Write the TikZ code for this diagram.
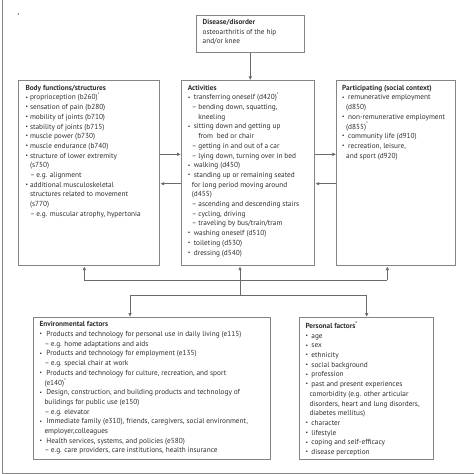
\documentclass[tikz,border=0pt]{standalone}
\usepackage{fontspec}
\setmainfont{PT Sans}
\usetikzlibrary{arrows.meta}
\definecolor{txt}{HTML}{2E2E2E}
\definecolor{frame}{HTML}{858585}
\definecolor{conn}{HTML}{6A6A6A}
\newcommand{\bu}[1][4.5pt]{\makebox[#1][l]{\raisebox{0.2ex}{\scalebox{0.75}{\textbullet}}}}
\newcommand{\ct}[1][4.5pt]{\hspace*{#1}}
\newcommand{\da}[1][6.5pt]{\makebox[#1][l]{–}}
\newcommand{\astr}{\textsuperscript{*}}
\begin{document}
\begin{tikzpicture}[x=1pt,y=-1pt,
  box/.style={draw=frame,line width=0.9pt,rectangle,inner sep=0pt,anchor=north west},
  txtbox/.style={anchor=north west,inner sep=0pt,align=left,text=txt,
     font=\fontsize{7.3}{9.7}\selectfont},
  arr/.style={draw=conn,line width=0.8pt,-{Latex[length=4pt,width=3.6pt]}},
  ln/.style={draw=conn,line width=0.8pt}]
\useasboundingbox (0,0) rectangle (474,474);
\draw[frame,line width=0.8pt] (2.5,0) -- (2.5,473.3) -- (474,473.3);
\fill[txt] (18.3,14) circle (0.7);

% boxes
\node[box,minimum width=108.3pt,minimum height=37pt] (dis) at (195.7,14.7) {};
\node[box,minimum width=141pt,minimum height=185pt] (body) at (18.3,80.3) {};
\node[box,minimum width=133.3pt,minimum height=185pt] (act) at (181,80.3) {};
\node[box,minimum width=119pt,minimum height=185pt] (par) at (336.3,80.3) {};
\node[box,minimum width=236.7pt,minimum height=142pt] (env) at (33.3,317) {};
\node[box,minimum width=134pt,minimum height=142pt] (per) at (299.3,317) {};

% texts
\node[txtbox] (disT) at (202.5,19.2) {\textbf{Disease/disorder}\\
osteoarthritis of the hip\\
and/or knee};

\node[txtbox] (bodyT) at (25.3,84.8) {\textbf{Body functions/structures}\\
\bu proprioception (b260)\astr\\
\bu sensation of pain (b280)\\
\bu mobility of joints (b710)\\
\bu stability of joints (b715)\\
\bu muscle power (b730)\\
\bu muscle endurance (b740)\\
\bu structure of lower extremity\\
\ct (s750)\\
\ct\da e.g. alignment\\
\bu additional musculoskeletal\\
\ct structures related to movement\\
\ct (s770)\\
\ct\da e.g. muscular atrophy, hypertonia};

\node[txtbox] (actT) at (187.7,84.8) {\textbf{Activities}\\
\bu[4pt] transferring oneself (d420)\astr\\
\ct[4pt]\da bending down, squatting,\\
\ct[10.5pt]kneeling\\
\bu[4pt] sitting down and getting up\\
\ct[10.5pt]from~ bed or chair\\
\ct[4pt]\da getting in and out of a car\\
\ct[4pt]\da lying down, turning over in bed\\
\bu[4pt] walking (d450)\\
\bu[4pt] standing up or remaining seated\\
\ct[4pt]for long period moving around\\
\ct[4pt](d455)\\
\ct[4pt]\da ascending and descending stairs\\
\ct[4pt]\da cycling, driving\\
\ct[4pt]\da traveling by bus/train/tram\\
\bu[4pt] washing oneself (d510)\\
\bu[4pt] toileting (d530)\\
\bu[4pt] dressing (d540)};

\node[txtbox] (parT) at (342,84.8) {\textbf{Participating (social context)}\\
\bu[4pt] remunerative employment\\
\ct[4pt](d850)\\
\bu[4pt] non-remunerative employment\\
\ct[4pt](d855)\astr\\
\bu[4pt] community life (d910)\\
\bu[4pt] recreation, leisure,\\
\ct[4pt]and sport (d920)};

\node[txtbox] (envT) at (39.3,321.5) {\textbf{Environmental factors}\\
\bu[5pt] Products and technology for personal use in daily living (e115)\\
\ct[5pt]\da e.g. home adaptations and aids\\
\bu[5pt] Products and technology for employment (e135)\\
\ct[5pt]\da e.g. special chair at work\\
\bu[5pt] Products and technology for culture, recreation, and sport\\
\ct[5pt](e140)\astr\\
\bu[5pt] Design, construction, and building products and technology of\\
\ct[5pt]buildings for public use (e150)\\
\ct[5pt]\da e.g. elevator\\
\bu[5pt] Immediate family (e310), friends, caregivers, social environment,\\
\ct[5pt]employer,colleagues\\
\bu[5pt] Health services, systems, and policies (e580)\\
\ct[5pt]\da e.g. care providers, care institutions, health insurance};

\node[txtbox] (perT) at (305.3,321.5) {\textbf{Personal factors\astr}\\
\bu[4pt] age\\
\bu[4pt] sex\\
\bu[4pt] ethnicity\\
\bu[4pt] social background\\
\bu[4pt] profession\\
\bu[4pt] past and present experiences\\
\ct[4pt]comorbidity (e.g. other articular\\
\ct[4pt]disorders, heart and lung disorders,\\
\ct[4pt]diabetes mellitus)\\
\bu[4pt] character\\
\bu[4pt] lifestyle\\
\bu[4pt] coping and self-efficacy\\
\bu[4pt] disease perception};

% connectors
\draw[arr] (dis.south) -- (dis.south |- act.north);
\coordinate (r1) at (0,154.3);
\coordinate (r2) at (0,183.7);
\draw[arr] (body.east |- r1) -- (act.west |- r1);
\draw[arr] (act.west |- r2) -- (body.east |- r2);
\draw[arr] (act.east |- r1) -- (par.west |- r1);
\draw[arr] (par.west |- r2) -- (act.east |- r2);

\coordinate (j1) at (84.3,280);
\coordinate (j2) at (387.3,280);
\draw[ln] (j1) -- (j2);
\draw[arr] (j1) -- (j1 |- body.south);
\draw[arr] (j2) -- (j2 |- par.south);
\coordinate (m) at (240,295.3);
\draw[arr] (m) -- (m |- act.south);
\coordinate (e1) at (130,295.3);
\coordinate (e2) at (366.7,295.3);
\draw[ln] (e1) -- (e2);
\draw[arr] (e1) -- (e1 |- env.north);
\draw[arr] (e2) -- (e2 |- per.north);
\end{tikzpicture}
\end{document}
